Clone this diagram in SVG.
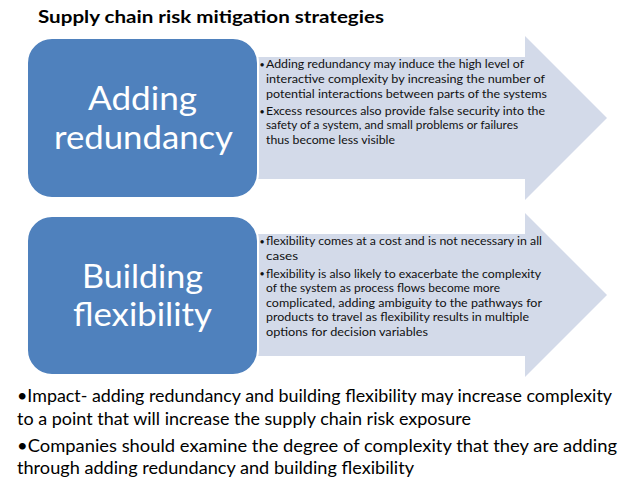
<svg xmlns="http://www.w3.org/2000/svg" width="638" height="479" viewBox="0 0 638 479">
  <style>
    .arrow { fill: #D3DAE9; }
    .box { fill: #4F81BD; stroke: #FFFFFF; stroke-width: 2; }
    .big { font-family: Lato, "Liberation Sans", sans-serif; font-size: 32px; fill: #FFFFFF; }
    .small { font-family: Lato, "Liberation Sans", sans-serif; font-size: 11px; fill: #111111; }
    .dot { font-family: Lato, "Liberation Sans", sans-serif; font-size: 9px; fill: #111111; }
    .body { font-family: Lato, "Liberation Sans", sans-serif; font-size: 17.5px; fill: #000000; }
    .title { font-family: Lato, "Liberation Sans", sans-serif; font-size: 16.5px; font-weight: bold; fill: #000000; }
  </style>
  <rect x="0" y="0" width="638" height="479" fill="#FFFFFF"/>

  <g id="title">
    <text class="title" x="38" y="23" textLength="346" lengthAdjust="spacingAndGlyphs">Supply chain risk mitigation strategies</text>
  </g>

  <g id="adding-redundancy">
    <polygon class="arrow" points="230,57 525,57 525,36 607,118 525,200 525,179 230,179"/>
    <rect class="box" x="27" y="38" width="231" height="160" rx="25" ry="25"/>
    <text class="big" x="88" y="110" textLength="109" lengthAdjust="spacingAndGlyphs">Adding</text>
    <text class="big" x="54" y="149" textLength="179" lengthAdjust="spacingAndGlyphs">redundancy</text>
    <text class="dot" x="259.5" y="67.5">•</text>
    <text class="small" x="266" y="68" textLength="258" lengthAdjust="spacingAndGlyphs">Adding redundancy may induce the high level of</text>
    <text class="small" x="266" y="83" textLength="279" lengthAdjust="spacingAndGlyphs">interactive complexity by increasing the number of</text>
    <text class="small" x="266" y="98" textLength="281" lengthAdjust="spacingAndGlyphs">potential interactions between parts of the systems</text>
    <text class="dot" x="259.5" y="114.5">•</text>
    <text class="small" x="266" y="115" textLength="279" lengthAdjust="spacingAndGlyphs">Excess resources also provide false security into the</text>
    <text class="small" x="266" y="129" textLength="252" lengthAdjust="spacingAndGlyphs">safety of a system, and small problems or failures</text>
    <text class="small" x="266" y="143.5" textLength="129" lengthAdjust="spacingAndGlyphs">thus become less visible</text>
  </g>

  <g id="building-flexibility">
    <polygon class="arrow" points="230,234 525,234 525,213 607,295 525,377 525,356 230,356"/>
    <rect class="box" x="27" y="216" width="231" height="159" rx="25" ry="25"/>
    <text class="big" x="82" y="288" textLength="121" lengthAdjust="spacingAndGlyphs">Building</text>
    <text class="big" x="73" y="326" textLength="139" lengthAdjust="spacingAndGlyphs">flexibility</text>
    <text class="dot" x="259.5" y="244.5">•</text>
    <text class="small" x="266" y="245" textLength="276" lengthAdjust="spacingAndGlyphs">flexibility comes at a cost and is not necessary in all</text>
    <text class="small" x="266" y="260" textLength="32" lengthAdjust="spacingAndGlyphs">cases</text>
    <text class="dot" x="259.5" y="277">•</text>
    <text class="small" x="266" y="277.5" textLength="275" lengthAdjust="spacingAndGlyphs">flexibility is also likely to exacerbate the complexity</text>
    <text class="small" x="266" y="292" textLength="234" lengthAdjust="spacingAndGlyphs">of the system as process flows become more</text>
    <text class="small" x="266" y="306.5" textLength="276" lengthAdjust="spacingAndGlyphs">complicated, adding ambiguity to the pathways for</text>
    <text class="small" x="266" y="321" textLength="263" lengthAdjust="spacingAndGlyphs">products to travel as flexibility results in multiple</text>
    <text class="small" x="266" y="335.5" textLength="162" lengthAdjust="spacingAndGlyphs">options for decision variables</text>
  </g>

  <g id="notes">
    <text class="body" x="17" y="402" textLength="595" lengthAdjust="spacingAndGlyphs">•Impact- adding redundancy and building flexibility may increase complexity</text>
    <text class="body" x="17" y="424.5" textLength="454" lengthAdjust="spacingAndGlyphs">to a point that will increase the supply chain risk exposure</text>
    <text class="body" x="17" y="452" textLength="600" lengthAdjust="spacingAndGlyphs">•Companies should examine the degree of complexity that they are adding</text>
    <text class="body" x="17" y="474" textLength="397" lengthAdjust="spacingAndGlyphs">through adding redundancy and building flexibility</text>
  </g>
</svg>
